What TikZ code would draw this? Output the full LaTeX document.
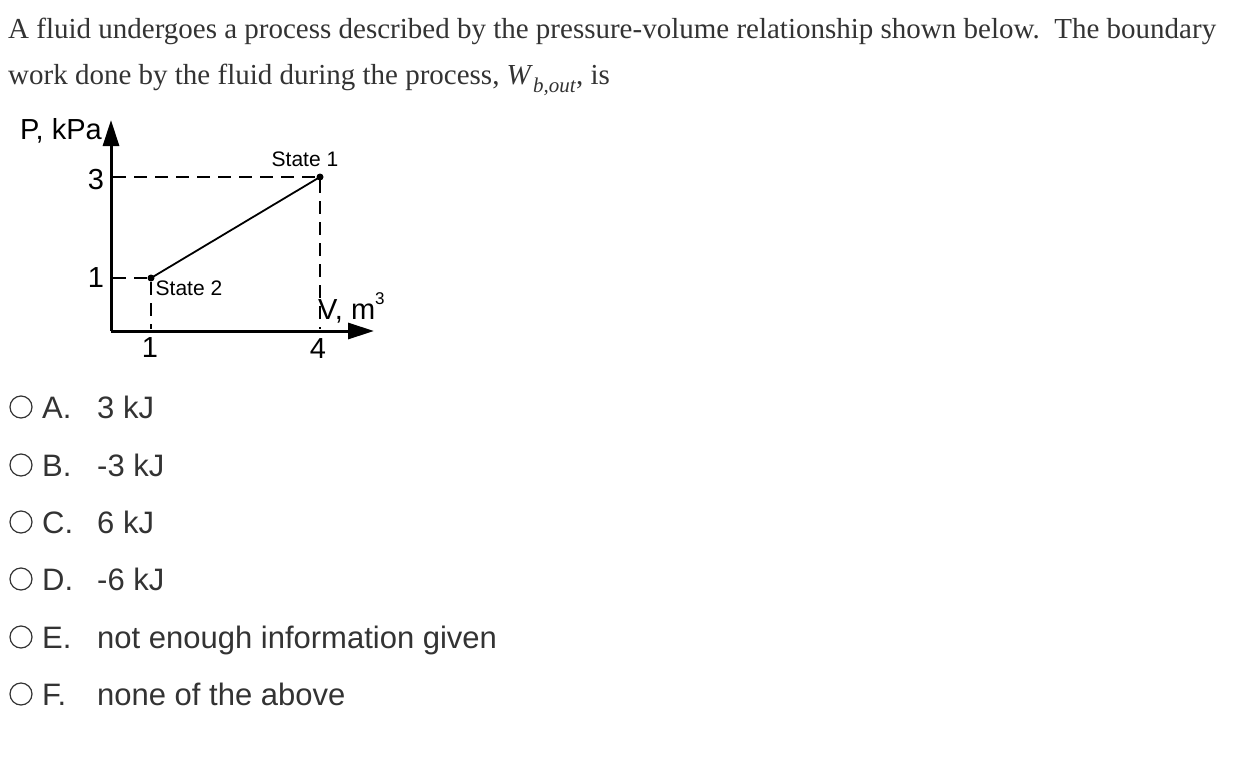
\documentclass[tikz,border=0pt]{standalone}
\usepackage{fontspec}
\setmainfont{Liberation Serif}
\newfontfamily\arial{Liberation Sans}
\usetikzlibrary{arrows.meta}
\definecolor{txt}{HTML}{333333}
\begin{document}
\begin{tikzpicture}[x=1pt,y=-1pt,
  q/.style={anchor=base west,inner sep=0,font=\fontsize{29}{34}\selectfont,text=txt},
  opt/.style={anchor=base west,inner sep=0,font=\arial\fontsize{31}{34}\selectfont,text=txt},
  rad/.style={draw=txt,line width=1.2pt,circle,minimum size=22pt,inner sep=0},
  lab/.style={inner sep=0,font=\arial\fontsize{29}{32}\selectfont},
  st/.style={inner sep=0,font=\arial\fontsize{21}{24}\selectfont},
  dsh/.style={dashed,dash pattern=on 13pt off 8pt,line width=1.1pt},
  ax/.style={line width=3pt,-{Triangle[length=26pt,width=16pt]}}]
\useasboundingbox (0,0) rectangle (1240,758);
\node[q] (t1) at (8,38) {A fluid undergoes a process described by the pressure-volume relationship shown below.\ \ The boundary};
\node[q] (t2) at (8,84) {work done by the fluid during the process, \textit{W}\raisebox{-0.3em}{\fontsize{21}{21}\selectfont\textit{b,out}}, is};
% axes
\coordinate (O) at (111,331);
\coordinate (Ytop) at (111,120);
\coordinate (Xend) at (374,331);
\draw[ax] (O) -- (Ytop);
\draw[ax] (O) -- (Xend);
\node[lab,anchor=east] (P) at (102,131) {P, kPa};
\coordinate (s1) at (320,177);
\coordinate (s2) at (151,278);
\coordinate (y3) at (113,177);
\coordinate (y1) at (113,278);
\coordinate (x1) at (151,329);
\coordinate (x4) at (320,329);
\draw[dsh] (y3) -- (s1) -- (x4);
\draw[dsh] (y1) -- (s2) -- (x1);
\draw[line width=1.8pt] (s2) -- (s1);
\fill (s1) circle (3.5pt);
\fill (s2) circle (3.5pt);
\node[lab] (n3) at (96,180) {3};
\node[lab] (n1) at (96,278) {1};
\node[lab] (m1) at (150,348) {1};
\node[lab] (m4) at (318,349) {4};
\node[st] (l1) at (305,159) {State 1};
\node[st] (l2) at (189,288) {State 2};
\node[lab,anchor=west] (V) at (318,308) {V, m\raisebox{0.5em}{\fontsize{17}{17}\selectfont 3}};
% options
\foreach \y/\l/\a [count=\i] in {418/A./3 kJ,476/B./-3 kJ,533/C./6 kJ,590/D./-6 kJ,648/E./not enough information given,705/F./none of the above}{
  \node[rad] (r\i) at (21,\y-11) {};
  \node[opt] (o\i) at (42,\y) {\l};
  \node[opt] (a\i) at (97,\y) {\a};
}
\end{tikzpicture}
\end{document}
